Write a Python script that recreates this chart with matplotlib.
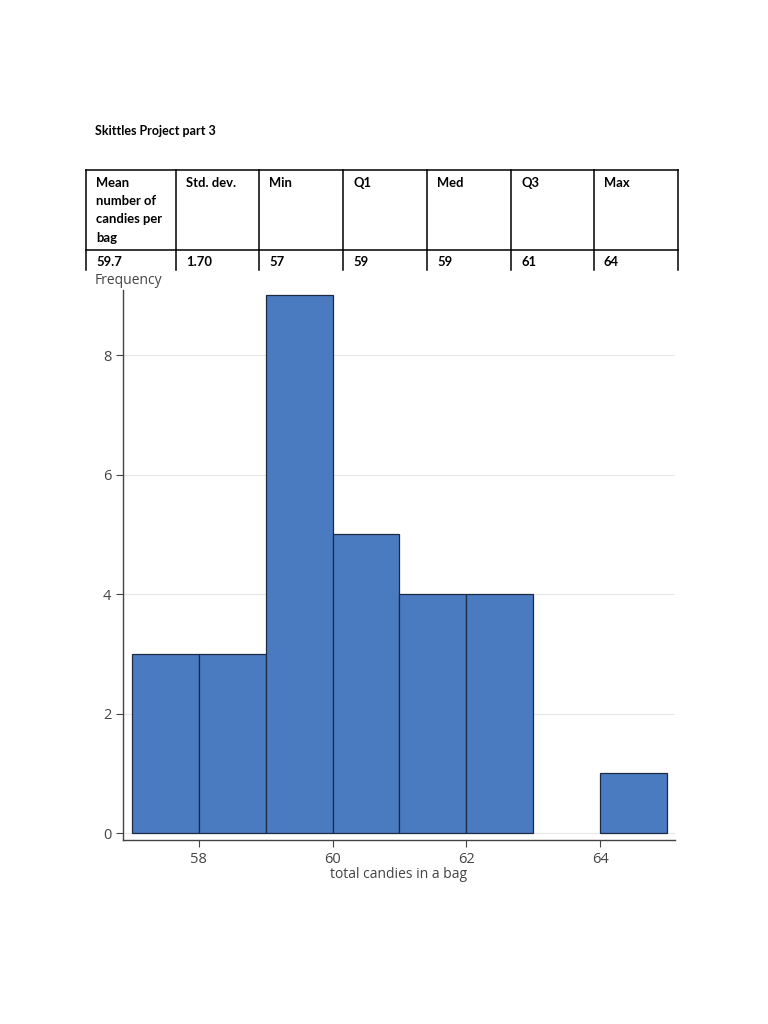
import matplotlib.pyplot as plt
from matplotlib.lines import Line2D
import numpy as np

# data
bin_edges = [57, 58, 59, 60, 61, 62, 63, 64, 65]
counts = [3, 3, 9, 5, 4, 4, 0, 1]
headers = ['Mean\nnumber of\ncandies per\nbag', 'Std. dev.', 'Min', 'Q1', 'Med', 'Q3', 'Max']
values = ['59.7', '1.70', '57', '59', '59', '61', '64']

W, H = 768, 1024
fig = plt.figure(figsize=(W / 100, H / 100), dpi=100)


def fx(x):
    return x / W


def fy(y):
    return 1 - y / H


doc_font = ['Lato', 'DejaVu Sans']

fig.text(fx(95), fy(131), 'Skittles Project part 3', family=doc_font, weight='bold',
         fontsize=9, va='center', ha='left')

# table drawn as lines
col_x = [86, 176, 259, 343, 427, 511, 594, 678]
for x in col_x:
    fig.add_artist(Line2D([fx(x), fx(x)], [fy(170), fy(270)], color='black', lw=1.1))
for y in [170, 250]:
    fig.add_artist(Line2D([fx(86), fx(678)], [fy(y), fy(y)], color='black', lw=1.1))
for i, (h, v) in enumerate(zip(headers, values)):
    fig.text(fx(col_x[i] + 10), fy(177), h, family=doc_font, weight='bold', fontsize=9.4,
             va='top', ha='left', linespacing=1.62)
    fig.text(fx(col_x[i] + 10), fy(262), v, family=doc_font, weight='bold', fontsize=9.4,
             va='center', ha='left')

# histogram
ax = fig.add_axes([fx(123), fy(840), fx(675) - fx(123), fy(290) - fy(840)])
edges = np.array(bin_edges)
bars = ax.bar(edges[:-1], counts, width=np.diff(edges), align='edge', color='#4a7bc1',
              edgecolor='#1c2a44', linewidth=0.9, zorder=3)
for b, c in zip(bars, counts):
    if c == 0:
        b.set_visible(False)

ax.set_xlim(56.866, 65.12)
ax.set_ylim(-0.117, 9.09)
ax.set_xticks([58, 60, 62, 64])
ax.set_yticks([0, 2, 4, 6, 8])
ax.grid(axis='y', color='#e6e6e6', linewidth=0.8, zorder=0)
for s in ['top', 'right']:
    ax.spines[s].set_visible(False)
for s in ['left', 'bottom']:
    ax.spines[s].set_color('#444444')
    ax.spines[s].set_linewidth(1.0)
ax.tick_params(colors='#444444', labelsize=10.5, length=5, width=0.8)
for lab in ax.get_xticklabels() + ax.get_yticklabels():
    lab.set_family(['Open Sans', 'DejaVu Sans'])
ax.set_xlabel('total candies in a bag', family=['Open Sans', 'DejaVu Sans'], fontsize=10,
              color='#444444', labelpad=0)
fig.text(fx(95), fy(280), 'Frequency', family=['Open Sans', 'DejaVu Sans'], fontsize=10,
         color='#444444', va='center', ha='left')

fig.savefig('out.png', dpi=100)
